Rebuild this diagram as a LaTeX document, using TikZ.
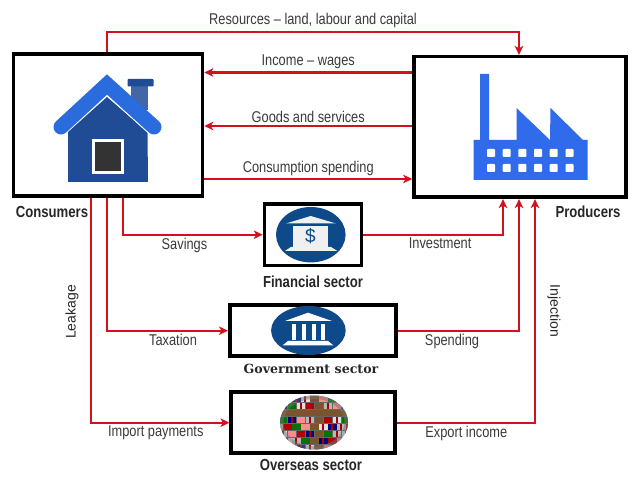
\documentclass[tikz,border=0pt]{standalone}
\usepackage{fontspec}
\setmainfont[FakeStretch=0.82]{Liberation Sans}
\newfontfamily\plainfont{Liberation Sans}
\newfontfamily\slabfont{DejaVu Serif}
\usetikzlibrary{positioning,arrows.meta,shadows}
\definecolor{flowred}{HTML}{D2101E}
\definecolor{labelgray}{HTML}{3A3A3A}
\definecolor{roofblue}{HTML}{2A6BDD}
\definecolor{wallblue}{HTML}{1F4C94}
\definecolor{factoryblue}{HTML}{2F6BEA}
\definecolor{bankblue}{HTML}{0E4A8A}
\tikzset{
  sectorbox/.style={draw, line width=3.6pt, fill=white, inner sep=0pt,
    drop shadow={shadow xshift=1.6pt, shadow yshift=-1.6pt, opacity=.35}},
  flow/.style={draw=flowred, line width=2.1pt, -{Stealth[length=9pt, width=8.5pt, inset=2.5pt]}},
  flowlabel/.style={text=labelgray, font=\fontsize{15.6}{17}\selectfont, inner sep=2.5pt},
  caption/.style={text=black!85, font=\fontsize{16}{18}\selectfont\bfseries, inner sep=0pt},
  sidelabel/.style={text=black!85, font=\plainfont\fontsize{14}{16}\selectfont, inner sep=0pt}
}
\begin{document}
\begin{tikzpicture}[x=1pt, y=-1pt]
\useasboundingbox (0,0) rectangle (638,478);

% Nodes
\node[sectorbox, minimum width=189pt, minimum height=142pt] (consumers) at (108,125) {};
\node[sectorbox, minimum width=212pt, minimum height=140.6pt] (producers) at (520,127) {};
\node[sectorbox, minimum width=97pt, minimum height=61.5pt] (financial) at (313,234.7) {};
\node[sectorbox, minimum width=166.5pt, minimum height=51pt] (government) at (313,330.7) {};
\node[sectorbox, minimum width=163.5pt, minimum height=61pt] (overseas) at (313,422.7) {};

% Captions
\node[caption] (consumerscap) at (52,212) {Consumers};
\node[caption] (producerscap) at (588,212) {Producers};
\node[caption, below=8pt of financial] (financialcap) {Financial sector};
\node[caption, below=5.5pt of government, xshift=-2pt, font=\slabfont\fontsize{12.6}{14}\selectfont\bfseries] (governmentcap) {Government sector};
\node[caption, below=4.5pt of overseas, xshift=-2pt] (overseascap) {Overseas sector};
\node[sidelabel, rotate=90] (leakage) at (72,312) {Leakage};
\node[sidelabel, rotate=-90] (injection) at (554,311) {Injection};

% House
\fill[wallblue] (68,182) -- (68,132) -- (107,97) -- (147.5,132) -- (148,182) -- cycle;
\fill[wallblue!85!white] (131,86) rectangle (148,110);
\fill[wallblue, rounded corners=.8pt] (127.5,79) rectangle (153.5,86.5);
\draw[white, line width=1.4pt] (63,135) -- (107,95) -- (151,135);
\draw[roofblue, line width=15pt, line cap=round, line join=miter] (61,127) -- (107,84.5) -- (154,127);
\fill[white] (91.5,139) rectangle (123.5,174.5);
\fill[black!80] (95,142.5) rectangle (120.5,171);

% Factory
\fill[factoryblue] (473.5,140) -- (480,140) -- (480,74) -- (489,74) -- (489,140) -- (516.5,140) -- (516.5,108)
  -- (550,140) -- (550.5,108) -- (583,140) -- (587.5,140) -- (587.5,180) -- (473.5,180) -- cycle;
\foreach \wx in {491,506.7,522.3,538,553.7,569.5}
  \foreach \wy in {153,168}
    \fill[white, rounded corners=.8pt] (\wx-4,\wy-4) rectangle (\wx+4,\wy+4);

% Bank
\fill[bankblue] (310.8,234.7) ellipse [x radius=34.8, y radius=27.7];
\fill[white!94!black] (310.7,216) -- (336,223.5) -- (286,223.5) -- cycle;
\fill[white!94!black] (293.3,226.5) rectangle (328.3,247);
\fill[white!94!black] (291,247) -- (331,247) -- (337.3,251) -- (285,251) -- cycle;
\node[text=bankblue, inner sep=0pt, font=\plainfont\fontsize{19}{19}\selectfont] (dollar) at (310.5,236.5) {\$};

% Government building
\fill[bankblue] (308.4,330.5) ellipse [x radius=37.3, y radius=24.5];
\fill[white] (308,312.7) -- (332,321) -- (285,321) -- cycle;
\foreach \cx in {293.7,303.7,313.7,323.2}
  \fill[white] (\cx-2,324) rectangle (\cx+2,340);
\fill[white] (288,341) -- (328,341) -- (333.5,345.5) -- (282.5,345.5) -- cycle;

% Flags
\begin{scope}
\clip (314,422.5) ellipse [x radius=34, y radius=27];
\fill[black!60] (276,395) rectangle (352,450);
\foreach \row [count=\ri from 0] in {396,403,410,417,424,431,438,445}
  \foreach \col [count=\ci from 0] in {274,283,292,301,310,319,328,337,346}{
    \pgfmathtruncatemacro{\pick}{mod(\ri*3+\ci*5+\ri*\ci,7)}
    \pgfmathsetmacro{\off}{mod(\ri,2)*4.5}
    \ifcase\pick\def\flagcol{red!70!black}\or\def\flagcol{white!88!black}\or\def\flagcol{green!45!black}\or
      \def\flagcol{blue!50!black}\or\def\flagcol{red!45!white}\or\def\flagcol{white!72!black}\or\def\flagcol{brown!65!black}\fi
    \fill[\flagcol] (\col+\off,\row) rectangle (\col+\off+8.5,\row+6.5);
    \ifodd\pick\fill[red!65!black] (\col+\off+3,\row) rectangle (\col+\off+5,\row+6.5);\fi
  }
\draw[black!55, opacity=.5, line width=5pt] (314,422.5) ellipse [x radius=33, y radius=26];
\end{scope}

% Arrows
\draw[flow] ([xshift=-1pt]consumers.north) |- (313,32) node[flowlabel, above, inner sep=3.5pt] {Resources -- land, labour and capital} -| ([xshift=-1pt]producers.north);
\draw[flow] ([yshift=54.5pt]producers.west) -- ([yshift=52.5pt]consumers.east) node[midway, above, flowlabel] {Income -- wages};
\draw[flow] ([yshift=1pt]producers.west) -- ([yshift=-1pt]consumers.east) node[midway, above, flowlabel] {Goods and services};
\draw[flow] ([yshift=-54pt]consumers.east) -- ([yshift=-52pt]producers.west) node[midway, above, flowlabel] {Consumption spending};
\draw[flow] ([xshift=15pt]consumers.south) |- (financial.west) node[pos=.72, below, flowlabel] {Savings};
\draw[flow] ([xshift=-1pt]consumers.south) |- (government.west) node[pos=.773, below, flowlabel] {Taxation};
\draw[flow] ([xshift=-17pt]consumers.south) |- (overseas.west) node[pos=.734, below, flowlabel] {Import payments};
\draw[flow] (financial.east) -| ([xshift=-17pt]producers.south) node[pos=.275, below, flowlabel] {Investment};
\draw[flow] (government.east) -| ([xshift=-1pt]producers.south) node[pos=.223, below, flowlabel] {Spending};
\draw[flow] (overseas.east) -| ([xshift=15pt]producers.south) node[pos=.252, below, flowlabel] {Export income};

\end{tikzpicture}
\end{document}
